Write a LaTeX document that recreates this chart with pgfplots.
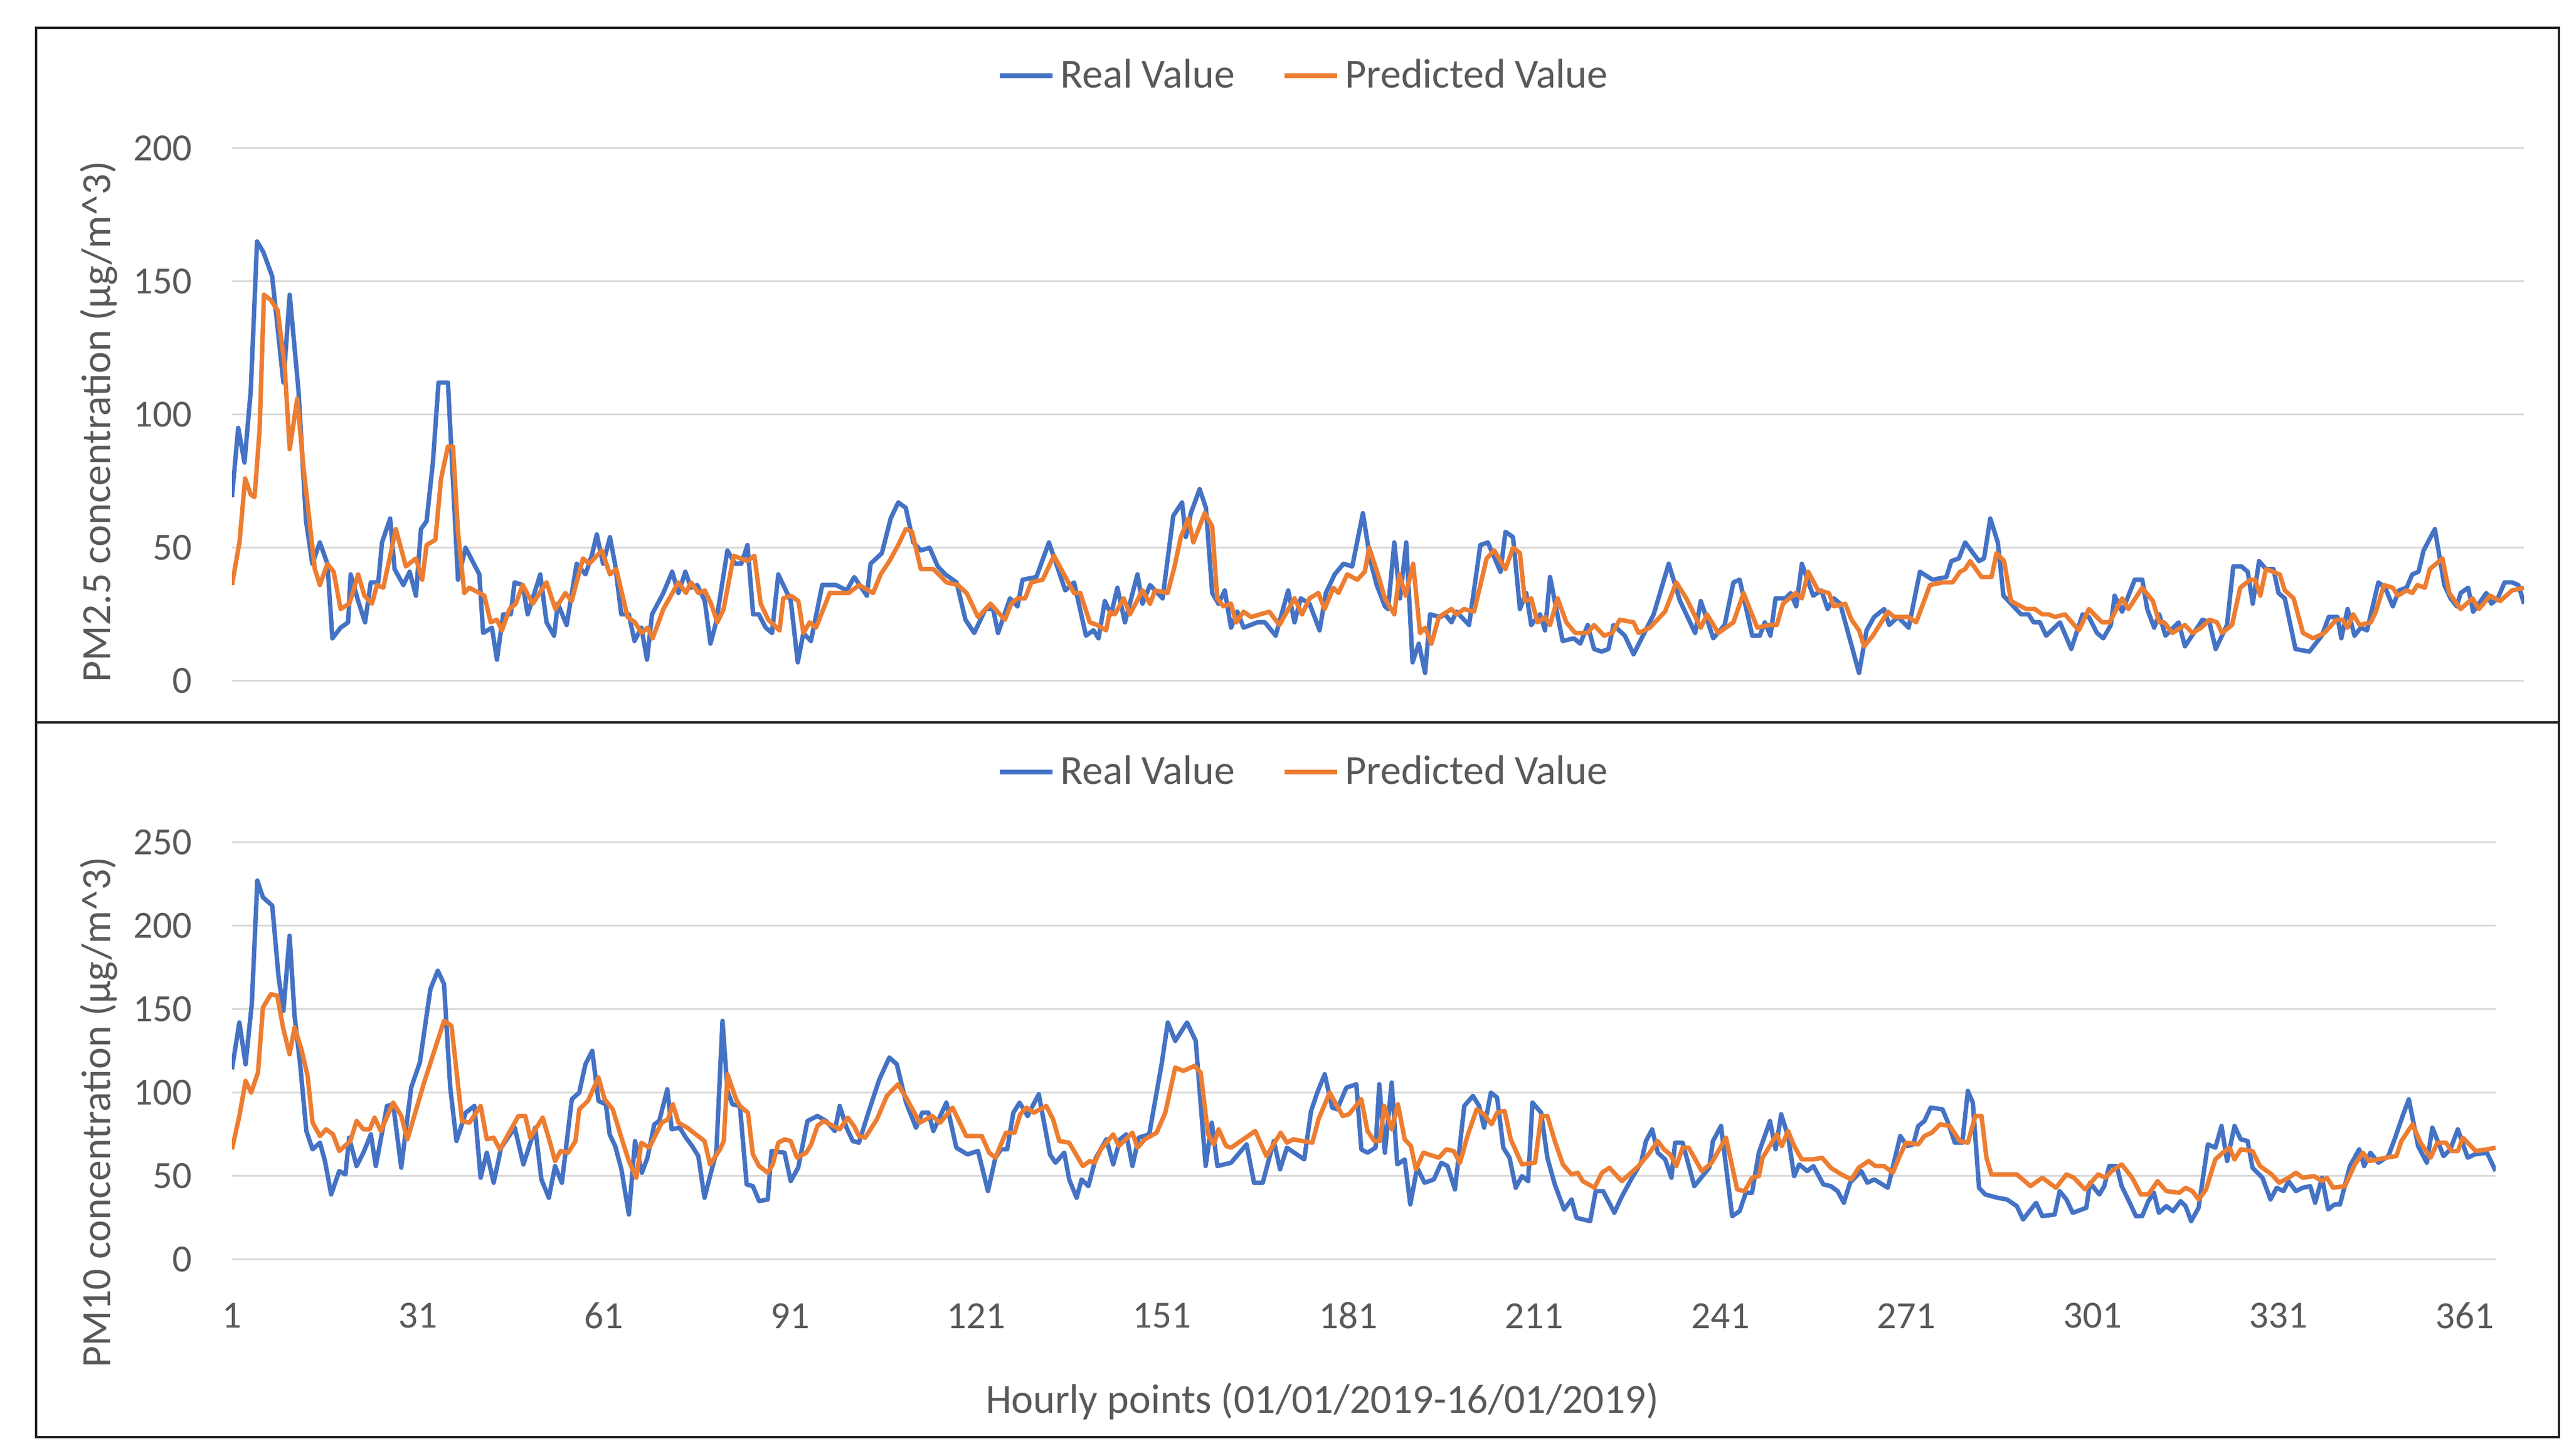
\documentclass[border=0pt]{standalone}
\usepackage{fontspec}
\setmainfont{Carlito}
\usepackage{pgfplots}
\pgfplotsset{compat=1.18}

\definecolor{realblue}{HTML}{4472C4}
\definecolor{predorange}{HTML}{ED7D31}
\definecolor{gridgray}{HTML}{D9D9D9}
\definecolor{txtgray}{HTML}{595959}

\pgfplotsset{
  panel/.style={
    scale only axis,
    anchor=south west,
    xmin=1, xmax=366,
    ymin=0,
    axis line style={draw=none},
    major tick length=0pt,
    ymajorgrids,
    grid style={gridgray, line width=0.6pt},
    tick label style={font=\fontsize{13}{15}\selectfont, text=txtgray},
    /pgf/number format/assume math mode=true,
    yticklabel style={anchor=east, inner sep=0pt, xshift=-13.4pt},
    label style={font=\fontsize{14}{16}\selectfont, text=txtgray},
    legend columns=2,
    legend style={draw=none, fill=none, anchor=center,
      font=\fontsize{14}{16}\selectfont, text=txtgray,
      /tikz/every even column/.append style={column sep=14pt}},
    legend image code/.code={\draw[#1, line width=1.5pt] (0pt,0pt) -- (17.8pt,0pt);},
    every axis plot/.append style={line width=1.5pt, mark=none, line join=round},
  }
}

\begin{document}
\begin{tikzpicture}
\useasboundingbox (0,0) rectangle (868.4pt,492.2pt);
\draw[line width=0.7pt, black!85] (12.2pt,6.4pt) rectangle (865pt,482.8pt);
\draw[line width=0.7pt, black!85] (12.2pt,248pt) -- (865pt,248pt);

% PM2.5
\begin{axis}[panel,
  at={(78.4pt,262pt)},
  width=774.8pt, height=180.1pt,
  ymax=200, ytick={0,50,100,150,200},
  xtick=\empty,
  ylabel={PM2.5 concentration (μg/m\textasciicircum 3)},
  ylabel style={at={(axis description cs:-0.0582,0.486)}, anchor=center},
  legend style={at={(0.4685,1.136)}},
]
\addplot[realblue] coordinates {
(1,69)(2,95)(3,82)(4,109)(5,165)(6,161)(7.4,152)(9.2,112)(10.2,145)(11.6,109)(12.8,60)(13.8,44)(15,52)(16.2,44)(17,16)(18.3,20)(19.5,22)(19.9,40)(21.1,30)(22.2,22)(23.1,37)(24.3,37)(24.9,52)(26.2,61)(26.9,42)(28.3,36)(29.3,41)(30.3,32)(31.1,57)(32,60)(33,82)(33.9,112)(35.4,112)(36,84)(37,38)(38.2,50)(40.4,40)(41,18)(42.4,20)(43.2,8)(44.2,25)(45.4,25)(46,37)(47.3,36)(48.1,25)(50.1,40)(51.1,22)(52.3,17)(52.9,29)(54.3,21)(55.9,44)(57.3,40)(58.3,47)(59.1,55)(60.1,44)
(61.2,54)(62,44)(63,25)(64.2,25)(65.1,15)(66.2,20)(67.1,8)(67.9,25)(69.7,33)(71.1,41)(72.1,33)(73.2,41)(74.1,35)(75.1,36)(76.3,30)(77.2,14)(78.1,22)(79.9,49)(81.1,44)(82.1,44)(83.1,51)(84,25)(84.9,25)(86,20)(87,18)(88,40)(90,30)(91.1,7)(92,18)(93.2,15)(95,36)(97.2,36)(98.9,34)(100.1,39)(102.1,32)(102.7,44)(104.5,48)(105.9,61)(107.1,67)(108.3,65)(109.5,52)(110.7,49)(112.1,50)(113.4,43)(114.6,40)(116.4,37)(117.8,23)(119.2,18)(121,27)(122.2,27)(123,18)
(124.9,31)(126.1,28)(126.9,38)(129.1,39)(131.1,52)(133.7,34)(135.1,37)(137,17)(138.2,19)(139,16)(140,30)(141,25)(142,35)(143.2,22)(145.2,40)(146,29)(147.2,36)(149.2,31)(150.9,62)(152.3,67)(152.9,54)(153.7,63)(155.1,72)(156.1,65)(157.1,33)(158.1,29)(159.1,34)(160.1,20)(161.1,26)(162.1,20)(164.3,22)(165.5,22)(167.2,17)(169.2,34)(170.2,22)(171.2,31)(172.6,29)(174.2,19)(175.2,33)(176.6,40)(178,44)(179.4,43)(181.1,63)(182.3,45)(183.3,36)
(184.6,28)(185.1,27)(186.1,52)(187,31)(188,52)(189,7)(190,14)(191,3)(191.8,25)(193.4,24)(194.2,25)(195.2,22)(196,26)(198,21)(199.8,51)(201,52)(203,41)(203.8,56)(205,54)(206.1,27)(207.1,33)(207.9,21)(209.3,25)(210.1,19)(210.9,39)(212.9,15)(214.7,16)(215.7,14)(216.9,21)(217.9,12)(219.1,11)(220.2,12)(221,21)(222.8,17)(224.2,10)(227.4,25)(229.8,44)(231.6,30)(234,18)(234.9,30)(236.9,16)(238.7,21)(240.1,37)(241.1,38)(243.1,17)(244.3,17)(245.1,22)
(246,17)(246.8,31)(248.4,31)(249.2,33)(250.1,28)(251,44)(252.8,32)(254.1,34)(255.1,27)(256.1,31)(257.1,29)(260.1,3)(261.3,19)(262.5,24)(264.1,27)(264.9,21)(266.3,24)(268,20)(269.8,41)(271.8,38)(274,39)(274.8,45)(276,46)(277,52)(279.2,45)(280,46)(281,61)(282.2,52)(283.1,32)(284.3,29)(285.9,25)(287.1,25)(287.9,22)(288.9,22)(289.9,17)(292.1,22)(293.9,12)(295.7,25)(296.7,24)(298,18)(299,16)(300.2,21)(300.8,32)(302,26)(304,38)(305.2,38)(306,27)
(307.1,20)(307.9,25)(308.9,17)(311,22)(312,13)(314.8,23)(315.9,22)(316.9,12)(318.7,21)(319.7,43)(321,43)(322,41)(322.8,29)(323.8,45)(324.9,42)(326.1,42)(326.9,33)(327.9,31)(329.6,12)(331.8,11)(333.8,17)(334.9,24)(336.3,24)(336.9,16)(337.9,27)(339,17)(340,20)(341,19)(342.8,37)(343.9,35)(345.1,28)(346.1,34)(347.3,35)(348.2,40)(349.2,41)(350,49)(351.8,57)(353.3,36)(354.3,31)(355.3,28)(355.9,33)(357.1,35)(357.9,26)(360,33)(360.8,29)(361.8,31)(362.9,37)(364.1,37)(365.1,36)(366,29)
};
\addlegendentry{Real Value}
\addplot[predorange] coordinates {
(1,36)(2.2,52)(3.1,76)(4,70)(4.6,69)(5.4,94)(6.1,145)(7.2,143)(8.3,139)(9.4,118)(10.2,87)(11.4,106)(12.4,80)(13.4,59)(14.2,42)(15,36)(16.2,44)(17.2,41)(18.3,27)(19.7,29)(21.1,40)(22.1,32)(23.3,29)(24.1,36)(25.1,35)(27.1,57)(28.7,43)(30.3,46)(31.3,38)(32,51)(33.4,53)(34.3,76)(35.4,88)(36.2,88)(37,56)(38,33)(38.8,35)(41.2,32)(42.2,22)(43.2,23)(44,19)(45.2,27)(46.2,29)(47.3,36)(48.9,29)(51.1,37)(52.5,27)(54.1,33)(55.1,30)(56.9,46)(57.9,44)(59.9,49)
(61.2,40)(62.2,42)(64,24)(65.2,22)(66.2,18)(67.2,20)(68,16)(69.7,27)(72.1,37)(73.3,33)(74.1,37)(75.3,33)(76.3,34)(77.3,29)(78.3,22)(79.3,27)(80.9,47)(83.1,45)(84.2,47)(85.2,29)(86.4,23)(88.2,19)(88.8,31)(90,32)(91.2,30)(92,18)(93,22)(94,20)(96.2,33)(98,33)(99.2,33)(100.9,36)(103.1,33)(104.3,40)(105.7,45)(107.1,51)(108.3,57)(109.3,56)(110.7,42)(112.7,42)(114.8,37)(116.6,36)(118,33)(119.8,24)(121.8,29)(123.3,25)
(124.1,23)(125.1,29)(126.1,31)(127.3,31)(128.3,37)(130.1,38)(131.9,47)(133.5,40)(135.1,33)(136.1,33)(137.6,22)(138.8,21)(140.2,19)(140.8,26)(141.6,25)(143,31)(144,25)(146,34)(147.2,29)(148,34)(150,33)(151.1,43)(152.1,54)(153.3,61)(154.1,52)(155.9,63)(157.1,58)(157.9,31)(158.9,28)(160.1,29)(160.9,22)(162.1,26)(163.3,24)(166.2,26)(167.8,21)(170.2,31)(171.4,25)(172.6,31)(174,33)(175,27)(176.4,35)(177.2,33)(178.6,40)(180.2,38)(181.4,41)(182.1,50)(183.5,40)(184.6,31)
(186.1,25)(186.9,40)(187.9,32)(189.1,44)(190.2,18)(191,20)(192,14)(193.2,24)(195.2,27)(196,25)(197.2,27)(198.8,26)(200.8,46)(202,49)(203.8,42)(205,50)(206.1,48)(206.9,30)(207.9,31)(208.9,22)(210.1,24)(210.9,21)(212.1,31)(213.5,22)(214.9,18)(216.9,18)(217.9,21)(219.5,17)(220.8,18)(222,23)(224.2,22)(225,18)(226.8,20)(229.2,26)(231,37)(232.6,31)(234.9,20)(235.9,25)(237.7,18)(240.1,22)(241.7,33)(243.9,20)
(245.8,21)(247,21)(248,29)(250,33)(251,31)(252,41)(253.6,34)(255.3,33)(256.1,28)(257.9,29)(258.9,23)(260.1,19)(260.9,13)(262.3,17)(264.7,26)(265.7,24)(268,24)(269.2,22)(271.4,36)(273.4,37)(275,37)(276.2,41)(277,42)(277.8,45)(279.6,39)(281.2,39)(282,48)(283.2,45)(284.3,30)(286.7,27)(288.1,27)(289.3,25)(290.3,25)(291.3,24)(292.9,25)(295.1,19)(296.7,27)(298.8,22)(300,22)(302,31)(303,27)(305.2,35)
(306.9,30)(307.9,22)(308.7,22)(310,18)(312,21)(313.2,18)(314.6,20)(315.9,23)(317.1,22)(317.9,18)(319.5,21)(320.8,35)(322.4,38)(323.2,38)(324,32)(324.9,42)(327.1,40)(327.9,34)(329.3,31)(330.8,18)(332.4,16)(334.2,18)(336.1,23)(337.1,23)(337.9,20)(338.8,25)(339.8,21)(341.6,22)(342.4,26)(343.7,36)(345.1,35)(345.9,32)(347.3,34)(348.2,33)(349,36)(350.2,35)(351,42)(353,46)(354.1,33)(355.9,27)(357.8,31)(358.8,27)(360.6,32)(362.2,30)(364.1,34)(366,35)
};
\addlegendentry{Predicted Value}
\end{axis}

% PM10
\begin{axis}[panel,
  at={(78.4pt,66.4pt)},
  width=765.2pt, height=141.1pt,
  ymax=250, ytick={0,50,100,150,200,250},
  xtick={1,31,61,91,121,151,181,211,241,271,301,331,361},
  xticklabel style={anchor=center, inner sep=0pt, yshift=-19pt},
  ylabel={PM10 concentration (μg/m\textasciicircum 3)},
  ylabel style={at={(axis description cs:-0.0589,0.353)}, anchor=center},
  xlabel={Hourly points (01/01/2019-16/01/2019)},
  xlabel style={at={(axis description cs:0.4817,-0.339)}, anchor=center},
  legend style={at={(0.4744,1.168)}},
]
\addplot[realblue] coordinates {
(1,114)(2.2,142)(3.2,117)(4.2,153)(5.1,227)(6,217)(7.5,212)(8.5,170)(9.3,149)(10.3,194)(11.1,146)(12,117)(13,77)(14,66)(15.2,70)(16,59)(17,39)(18.3,53)(19.3,51)(19.9,73)(21.1,56)(22.2,64)(23.4,75)(24.2,56)(26,92)(27,93)(28.3,55)(29.9,103)(31.3,118)(33,162)(34.2,173)(35.2,165)(36.2,103)(37.2,71)(38.7,88)(40.1,92)(41.1,49)(42.1,64)(43.2,46)(44.4,67)(46.6,79)(48,57)(49.9,79)(50.9,48)(52.1,37)(53.1,56)(54.2,46)(55.8,96)(57,100)(58,117)(59.1,125)(60.1,95)(61.3,93)
(61.9,75)(62.8,68)(63.8,54)(65,27)(66,71)(67.1,52)(68,61)(69.1,81)(69.9,83)(71.2,102)(71.9,78)(73.2,79)(74.2,73)(75.2,68)(76.2,62)(77.2,37)(78.3,53)(79.1,64)(80.1,143)(80.9,101)(81.7,93)(82.9,92)(84,45)(85,44)(86,35)(87.4,36)(88,65)(90.1,64)(91.1,47)(92.3,55)(93.8,83)(95.4,86)(96.8,83)(98.2,77)(99,92)(100.1,79)(101.1,71)(102.1,70)(103.7,89)(105.4,108)(107,121)(108.2,117)(109.7,94)(111.3,79)(112.3,88)(113.3,88)(114.1,77)(116.2,94)(117.8,67)(119.6,63)(121.3,65)(122.9,41)(124.1,61)
(125,66)(126,66)(127,88)(128,94)(129.3,86)(130.1,92)(131.1,99)(132.9,63)(133.8,58)(135.2,64)(136,48)(137.2,37)(138,48)(139.1,44)(140.3,61)(142,72)(143.1,57)(144.2,72)(145.2,75)(146.2,56)(147.2,73)(148.9,75)(150.9,117)(151.9,142)(153.1,131)(155,142)(156.4,131)(158,56)(159,82)(159.9,56)(162.1,58)(164.6,69)(165.8,46)(167.2,46)(169,71)(170,54)(171.1,67)(173.9,60)(175,89)(176,100)(177.2,111)(178.4,91)(179.2,90)(180.7,103)(182.3,105)(183.1,66)(184.1,64)(185.4,67)(186,105)
(186.9,64)(188,106)(188.9,57)(190.1,60)(191,33)(192.1,55)(193.3,46)(194.8,48)(196,58)(197,56)(198.2,42)(199.7,92)(201.1,98)(202.1,92)(202.9,79)(204,100)(205,97)(206,67)(207,61)(208,43)(209,50)(210,47)(210.7,94)(212.1,88)(213.1,61)(214.3,45)(215.8,30)(217,36)(217.8,25)(220,23)(220.9,41)(222.1,41)(223.9,28)(225,37)(226.6,48)(228.2,58)(229,71)(230,78)(230.9,64)(232.1,60)(233.1,49)(233.7,70)(234.9,70)(236.8,44)(239.2,55)(239.8,71)(241.1,80)(242.9,26)(244.1,29)(245.1,40)(246.1,40)(247.2,64)
(249,83)(249.9,66)(250.8,87)(251.9,74)(252.9,50)(253.7,57)(255,53)(256,56)(257.6,45)(258.8,44)(259.9,41)(260.9,34)(261.9,46)(263.7,53)(264.7,46)(265.8,48)(268,43)(270,74)(271.1,68)(272.1,69)(272.9,80)(273.9,83)(274.9,91)(276.8,90)(277.6,83)(278.8,70)(280,70)(280.9,101)(281.7,94)(282.7,43)(283.7,39)(285.7,37)(287.2,36)(288.8,32)(289.8,24)(291.9,34)(292.9,26)(294.9,27)(295.7,41)(296.8,36)(297.8,28)(300,31)(300.6,46)(302.1,39)(302.9,44)(303.7,56)(304.9,56)(305.7,44)(307,34)(308,26)(309,26)
(310,35)(310.9,40)(311.7,28)(312.9,32)(314,29)(315.2,35)(316,32)(316.9,23)(318.1,31)(319.6,69)(320.8,67)(321.8,80)(322.7,59)(323.9,80)(324.9,72)(326,71)(326.8,55)(328.4,49)(329.7,36)(330.7,43)(331.8,41)(332.6,47)(333.8,41)(334.9,43)(336.1,44)(336.9,34)(338,49)(339,30)(340,33)(340.9,33)(342.5,56)(344,66)(344.8,56)(345.8,64)(347.1,58)(348.7,62)(349.8,73)(351,86)(352,96)(353.5,68)(354.9,58)(355.8,79)(357.6,62)(358.7,66)(359.9,78)(361.5,61)(362.6,63)(364.6,64)(366,53)
};
\addlegendentry{Real Value}
\addplot[predorange] coordinates {
(1,66)(2.2,86)(3.2,107)(4.1,100)(5.2,112)(6,151)(7.3,159)(8.3,158)(9.3,138)(10.3,123)(11.1,139)(12.2,126)(13.2,110)(14,82)(15.2,74)(16.2,78)(17.3,75)(18.3,65)(20.1,71)(21.1,83)(22.2,78)(23.2,78)(24,85)(25,77)(27,94)(28.3,86)(29.3,72)(31.9,105)(35.2,143)(36.4,140)(38.1,83)(39.3,82)(41.1,92)(42.1,72)(43.2,73)(44.2,66)(47.2,86)(48.3,86)(49.1,73)(51.1,85)(52.3,70)(53.1,59)(54,65)(55.2,64)(56.4,71)(57,90)(58.4,95)(60.1,109)(61.1,96)
(62.4,90)(63.8,73)(65,59)(66.2,49)(67,70)(68.3,67)(70.3,82)(71.3,84)(72.1,93)(73,82)(74.4,79)(75.8,75)(77.2,71)(78.1,57)(79.7,66)(80.3,71)(80.9,111)(82.3,96)(82.9,92)(84.2,88)(85,63)(86,56)(87.4,52)(88.2,57)(89.1,70)(90.1,72)(91.1,71)(92.1,61)(93.6,64)(94.4,69)(95.4,80)(96.4,83)(99,78)(100.3,85)(101.3,80)(102.1,74)(103.1,73)(105,84)(106.6,98)(108.4,105)(109.7,97)(111.9,82)(112.9,84)(113.9,86)(115.2,82)(117.2,91)(119.4,74)(121.9,74)(123.1,64)(124.1,61)
(125.8,76)(127.2,76)(128.1,87)(129.1,91)(130.3,88)(132.3,92)(133.4,84)(134.4,71)(136,70)(138.2,56)(139.3,59)(140.1,58)(141.1,66)(143.1,75)(144,68)(146.2,76)(147,67)(148.2,72)(150.1,76)(151.5,88)(153.1,115)(154.4,113)(156.2,116)(157.2,112)(158.4,75)(159.3,69)(160.1,78)(161.3,68)(162.1,67)(166,77)(167.8,62)(170.1,76)(171.1,70)(172.1,72)(175.2,70)(176.2,84)(178,100)(180.1,86)(181.1,87)(183.1,96)(184.1,77)(185.2,71)(186.1,71)
(186.8,92)(188,78)(189,93)(190.1,72)(191.1,68)(191.9,54)(193.1,64)(195.6,61)(196.8,66)(198,65)(199,58)(200.3,75)(201.7,90)(202.9,87)(204.1,81)(205,88)(206.2,89)(207.2,72)(209,57)(211.1,58)(212.1,86)(213.1,86)(214.3,71)(215.6,57)(217,51)(218,52)(218.8,47)(220.7,43)(221.9,52)(223.1,55)(225.1,47)(227.8,56)(229.4,63)(230.9,71)(231.9,66)(232.9,63)(233.9,56)(234.9,67)(235.9,67)(238,53)(239.6,58)(241.9,73)(243.7,42)(244.9,41)(246.1,49)(247.2,50)
(247.8,61)(250.1,75)(250.9,68)(251.9,77)(252.9,68)(254.1,60)(256,60)(257.4,61)(258.8,55)(260.5,51)(262.1,48)(263.3,55)(264.9,59)(266,56)(267.4,56)(268.8,52)(269.8,61)(270.9,70)(272.9,69)(273.9,74)(275.1,76)(276.4,81)(278,80)(279.6,71)(280.9,70)(282.1,86)(283.1,86)(283.9,61)(284.7,51)(288.8,51)(291,44)(292.9,49)(295.1,43)(296.8,51)(298,49)(299.8,42)(301.9,51)(303.1,49)(304.1,53)(305.7,57)(307.4,49)(308.8,39)(310,39)
(311.5,47)(312.9,41)(315,40)(316,43)(317.1,41)(318.1,36)(319.3,42)(320.8,60)(322,64)(323.1,67)(323.9,60)(324.9,66)(326.8,65)(328,56)(329.9,51)(331.1,46)(332.6,49)(333.8,52)(334.9,49)(336.7,50)(338,47)(338.8,49)(339.8,43)(341.7,44)(343.3,57)(344.6,64)(345.6,59)(348.3,61)(350,62)(350.8,71)(352.6,81)(353.9,70)(355.5,61)(356.6,70)(358,70)(358.9,65)(359.9,65)(360.7,73)(362.8,65)(364.6,66)(366,67)
};
\addlegendentry{Predicted Value}
\end{axis}
\end{tikzpicture}
\end{document}
